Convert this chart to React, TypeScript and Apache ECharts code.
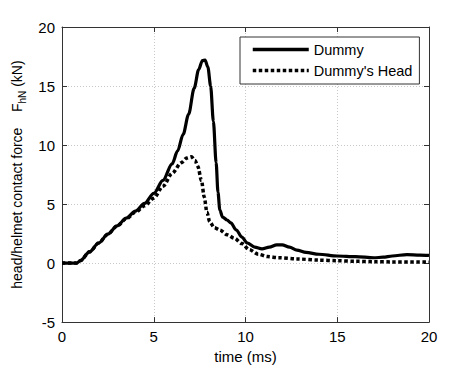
import React, { useEffect, useRef } from "react";
import * as echarts from "echarts";

const xTicks = [0, 5, 10, 15, 20];
const yTicks = [-5, 0, 5, 10, 15, 20];

const seriesNames = ["Dummy", "Dummy's Head"];

const dummyT = [0, 0.8, 1, 1.5, 2, 2.5, 3, 3.5, 4, 4.5, 5, 5.5, 6, 6.3, 6.6, 6.9, 7.2, 7.45, 7.65, 7.8, 7.95, 8.1, 8.25, 8.4, 8.5, 8.6, 8.75, 9, 9.2, 9.5, 9.8, 10.1, 10.5, 10.9, 11.3, 11.7, 12, 12.4, 12.8, 13.3, 14, 15, 16, 17, 17.5, 18, 18.8, 19.5, 20];
const dummyV = [0, 0, 0.2, 0.95, 1.7, 2.45, 3.15, 3.8, 4.4, 5.05, 5.9, 7.0, 8.4, 9.5, 10.9, 12.6, 14.8, 16.4, 17.15, 17.2, 16.6, 15.0, 12.0, 8.5, 6.0, 4.5, 3.9, 3.65, 3.4, 2.8, 2.2, 1.7, 1.35, 1.2, 1.35, 1.55, 1.55, 1.35, 1.1, 0.9, 0.75, 0.6, 0.55, 0.45, 0.5, 0.6, 0.72, 0.68, 0.65];

const headT = [0, 0.8, 1, 1.5, 2, 2.5, 3, 3.5, 4, 4.5, 5, 5.5, 6, 6.5, 6.8, 7.05, 7.25, 7.4, 7.6, 7.75, 7.9, 8.05, 8.3, 8.6, 9, 9.4, 9.8, 10.2, 10.7, 11.2, 11.8, 12.8, 14, 15, 16, 17, 18, 20];
const headV = [0, 0, 0.2, 0.95, 1.7, 2.45, 3.15, 3.75, 4.3, 4.85, 5.5, 6.5, 7.6, 8.5, 8.9, 9.0, 8.7, 8.2, 7.0, 5.6, 4.3, 3.5, 3.0, 2.8, 2.4, 2.1, 1.65, 1.15, 0.75, 0.55, 0.45, 0.35, 0.25, 0.2, 0.15, 0.12, 0.1, 0.08];

const FONT = "'Liberation Sans', Arial, sans-serif";

export default function App() {
  const ref = useRef<HTMLDivElement>(null);
  useEffect(() => {
    if (!ref.current) return;
    const chart = echarts.init(ref.current, null, { renderer: "svg" });
    const xMin = xTicks[0];
    const xMax = xTicks[xTicks.length - 1];
    const yMin = yTicks[0];
    const yMax = yTicks[yTicks.length - 1];
    const axisColor = "#333";
    const baseX = {
      type: "value",
      min: xMin,
      max: xMax,
      interval: xTicks[1] - xTicks[0],
      axisLine: { show: true, onZero: false, lineStyle: { color: axisColor, width: 1 } },
      axisTick: { show: true, inside: true, length: 5, lineStyle: { color: axisColor } },
    };
    const baseY = {
      type: "value",
      min: yMin,
      max: yMax,
      interval: yTicks[1] - yTicks[0],
      axisLine: { show: true, onZero: false, lineStyle: { color: axisColor, width: 1 } },
      axisTick: { show: true, inside: true, length: 5, lineStyle: { color: axisColor } },
    };
    chart.setOption({
      animation: false,
      backgroundColor: "#fff",
      textStyle: { fontFamily: FONT },
      grid: { left: 62, right: 45, top: 27, bottom: 45, containLabel: false },
      legend: {
        orient: "vertical",
        left: 240,
        top: 37,
        data: seriesNames,
        itemWidth: 56,
        itemHeight: 14,
        itemGap: 6,
        padding: [5, 7, 6, 11],
        borderColor: "#333",
        borderWidth: 1,
        backgroundColor: "#fff",
        itemStyle: { opacity: 0, color: "transparent", borderWidth: 0 },
        lineStyle: { width: 3.5 },
        textStyle: { fontSize: 14.5, color: "#000", fontFamily: FONT },
      },
      xAxis: [
        {
          ...baseX,
          position: "bottom",
          name: "time (ms)",
          nameLocation: "middle",
          nameGap: 26,
          nameTextStyle: { fontSize: 15, color: "#000", fontFamily: FONT },
          axisLabel: { show: true, margin: 7, fontSize: 15, color: "#000", fontFamily: FONT },
          splitLine: { show: true, lineStyle: { color: "#c8c8c8", type: [1, 2], width: 1 } },
        },
        {
          ...baseX,
          position: "top",
          axisLabel: { show: false },
          splitLine: { show: false },
        },
      ],
      yAxis: [
        {
          ...baseY,
          position: "left",
          name: "{m|head/helmet contact force    F}{s|hN}{m| (kN)}",
          nameLocation: "middle",
          nameGap: 34,
          nameRotate: 90,
          nameTextStyle: {
            fontSize: 14,
            color: "#000",
            fontFamily: FONT,
            rich: {
              m: { fontSize: 14, lineHeight: 20, color: "#000", fontFamily: FONT, verticalAlign: "middle" },
              s: { fontSize: 10, lineHeight: 10, color: "#000", fontFamily: FONT, verticalAlign: "bottom" },
            },
          },
          axisLabel: { show: true, margin: 7, fontSize: 15, color: "#000", fontFamily: FONT },
          splitLine: { show: true, lineStyle: { color: "#c8c8c8", type: [1, 2], width: 1 } },
        },
        {
          ...baseY,
          position: "right",
          axisLabel: { show: false },
          splitLine: { show: false },
        },
      ],
      series: [
        {
          name: seriesNames[0],
          type: "line",
          data: dummyT.map((t, i) => [t, dummyV[i]]),
          showSymbol: false,
          symbol: "none",
          smooth: 0.3,
          smoothMonotone: "x",
          lineStyle: { color: "#000", width: 3.2, type: "solid" },
          itemStyle: { color: "#000" },
          xAxisIndex: 0,
          yAxisIndex: 0,
        },
        {
          name: seriesNames[1],
          type: "line",
          data: headT.map((t, i) => [t, headV[i]]),
          showSymbol: false,
          symbol: "none",
          smooth: 0.3,
          smoothMonotone: "x",
          lineStyle: { color: "#000", width: 3.5, type: [3.5, 2.5], cap: "butt" },
          itemStyle: { color: "#000" },
          xAxisIndex: 0,
          yAxisIndex: 0,
        },
      ],
    });
    return () => chart.dispose();
  }, []);
  return <div ref={ref} style={{ width: 474, height: 369, position: "absolute", left: 0, top: 0 }} />;
}
